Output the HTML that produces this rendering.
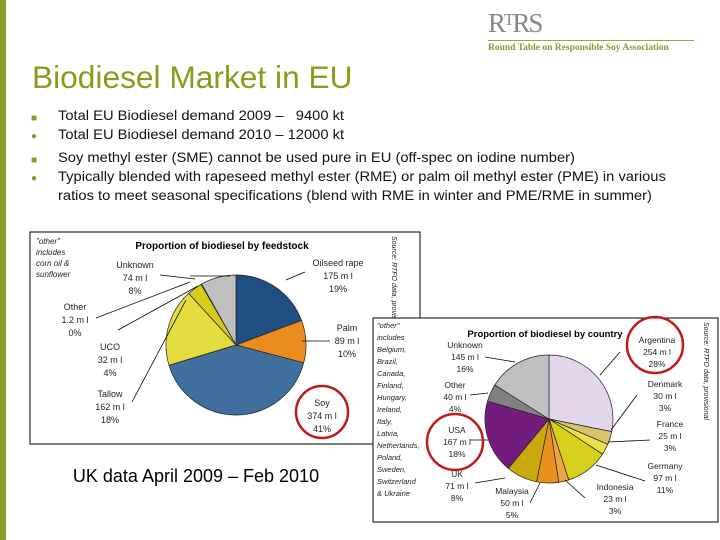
<!DOCTYPE html>
<html><head><meta charset="utf-8"><style>
body{margin:0;width:720px;height:540px;background:#fff;position:relative;overflow:hidden;font-family:"Liberation Sans",sans-serif}
.abs{position:absolute}
.b{position:absolute;font-size:14px;color:#111;font-family:"Liberation Sans Narrow","Liberation Sans",sans-serif;left:58px;line-height:19px;transform:scaleX(1.05);transform-origin:left;white-space:nowrap}
.m{position:absolute;left:31px;font-size:10px;color:#8a9a22}
</style></head><body>
<div class="abs" style="left:0;top:0;width:6px;height:540px;background:#8d9b2b"></div>
<div class="abs" style="left:488px;top:8px;width:210px;height:45px">
<div style="font-family:'Liberation Serif',serif;font-size:27px;color:#888;letter-spacing:-2px">R<span style="font-size:17px;vertical-align:7px">T</span>RS</div>
<div style="border-top:1px solid #9aa83a;width:206px;margin-top:1px"></div>
<div style="font-family:'Liberation Serif',serif;font-size:9.5px;font-weight:bold;color:#8a9632;margin-top:2px">Round Table on Responsible Soy Association</div>
</div>
<div class="abs" style="left:32px;top:59px;font-size:31.7px;color:#8c9a1e">Biodiesel Market in EU</div>
<div class="m" style="top:113px">■</div><div class="b" style="top:106px">Total EU Biodiesel demand 2009 –&nbsp;&nbsp; 9400 kt</div>
<div class="m" style="top:131px">●</div><div class="b" style="top:125px">Total EU Biodiesel demand 2010 – 12000 kt</div>
<div class="m" style="top:155px">■</div><div class="b" style="top:148px">Soy methyl ester (SME) cannot be used pure in EU (off-spec on iodine number)</div>
<div class="m" style="top:173px">●</div><div class="b" style="top:167px">Typically blended with rapeseed methyl ester (RME) or palm oil methyl ester (PME) in various<br>ratios to meet seasonal specifications (blend with RME in winter and PME/RME in summer)</div>

<svg class="abs" style="left:0;top:0" width="720" height="540">
<rect x="30" y="232" width="390" height="212" fill="#fff" stroke="#000"/>
<text x="222" y="249" font-size="10" font-weight="bold" text-anchor="middle">Proportion of biodiesel by feedstock</text>
<g id="pie1"></g>
<g stroke="#000" stroke-width="0.8" fill="none">
<path d="M286,280 L305,272"/><path d="M302,341 L330,341"/><path d="M190,282 L96,318"/><path d="M198,286 L118,330"/><path d="M186,300 L132,402"/><path d="M195,279 L160,275"/><path d="M230,276 L190,276"/>
</g>
<g font-size="9" fill="#222" text-anchor="middle" font-family="Liberation Sans">
<text x="338" y="266">Oilseed rape</text><text x="338" y="279">175 m l</text><text x="338" y="292">19%</text>
<text x="347" y="331">Palm</text><text x="347" y="344">89 m l</text><text x="347" y="357">10%</text>
<text x="322" y="406">Soy</text><text x="322" y="419">374 m l</text><text x="322" y="432">41%</text>
<text x="110" y="397">Tallow</text><text x="110" y="410">162 m l</text><text x="110" y="423">18%</text>
<text x="110" y="350">UCO</text><text x="110" y="363">32 m l</text><text x="110" y="376">4%</text>
<text x="75" y="310">Other</text><text x="75" y="323">1.2 m l</text><text x="75" y="336">0%</text>
<text x="135" y="268">Unknown</text><text x="135" y="281">74 m l</text><text x="135" y="294">8%</text>
<text x="36" y="244" text-anchor="start" font-style="italic" font-size="8">"other"</text><text x="36" y="255" text-anchor="start" font-style="italic" font-size="8">includes</text><text x="36" y="266" text-anchor="start" font-style="italic" font-size="8">corn oil &amp;</text><text x="36" y="277" text-anchor="start" font-style="italic" font-size="8">sunflower</text>
<text transform="translate(392,236) rotate(90)" text-anchor="start" font-size="7" font-style="italic">Source: RTFO data, provisional</text>
</g>
<circle cx="322" cy="412" r="26" fill="none" stroke="#c0191c" stroke-width="2.5"/>
<text x="196" y="482" font-size="18" text-anchor="middle">UK data April 2009 – Feb 2010</text>

<rect x="373" y="318" width="345" height="204" fill="#fff" stroke="#000"/>
<text x="545" y="337" font-size="9.5" font-weight="bold" text-anchor="middle">Proportion of biodiesel by country</text>
<g id="pie2"></g>
<g stroke="#000" stroke-width="0.8" fill="none">
<path d="M600,375 L620,352"/><path d="M611,430 L637,395"/><path d="M608,442 L650,440"/><path d="M596,465 L645,481"/><path d="M565,480 L585,498"/><path d="M540,483 L530,503"/><path d="M505,478 L475,483"/><path d="M488,440 L470,440"/><path d="M488,393 L470,395"/><path d="M515,362 L485,357"/>
</g>
<g font-size="8.5" fill="#222" text-anchor="middle">
<text x="657" y="343">Argentina</text><text x="657" y="355">254 m l</text><text x="657" y="367">28%</text>
<text x="665" y="387">Denmark</text><text x="665" y="399">30 m l</text><text x="665" y="411">3%</text>
<text x="670" y="427">France</text><text x="670" y="439">25 m l</text><text x="670" y="451">3%</text>
<text x="665" y="469">Germany</text><text x="665" y="481">97 m l</text><text x="665" y="493">11%</text>
<text x="615" y="490">Indonesia</text><text x="615" y="502">23 m l</text><text x="615" y="514">3%</text>
<text x="512" y="494">Malaysia</text><text x="512" y="506">50 m l</text><text x="512" y="518">5%</text>
<text x="457" y="477">UK</text><text x="457" y="489">71 m l</text><text x="457" y="501">8%</text>
<text x="457" y="433">USA</text><text x="457" y="445">167 m l</text><text x="457" y="457">18%</text>
<text x="455" y="388">Other</text><text x="455" y="400">40 m l</text><text x="455" y="412">4%</text>
<text x="465" y="348">Unknown</text><text x="465" y="360">145 m l</text><text x="465" y="372">16%</text>
</g>
<g font-size="7.5" font-style="italic" fill="#222">
<text x="377" y="328">"other"</text><text x="377" y="340">includes</text><text x="377" y="352">Belgium,</text><text x="377" y="364">Brazil,</text><text x="377" y="376">Canada,</text><text x="377" y="388">Finland,</text><text x="377" y="400">Hungary,</text><text x="377" y="412">Ireland,</text><text x="377" y="424">Italy,</text><text x="377" y="436">Latvia,</text><text x="377" y="448">Netherlands,</text><text x="377" y="460">Poland,</text><text x="377" y="472">Sweden,</text><text x="377" y="484">Switzerland</text><text x="377" y="496">&amp; Ukraine</text>
<text transform="translate(704,322) rotate(90)" font-size="7">Source: RTFO data, provisional</text>
</g>
<circle cx="655" cy="345" r="28" fill="none" stroke="#c0191c" stroke-width="2.5"/>
<circle cx="455" cy="442" r="28" fill="none" stroke="#c0191c" stroke-width="2.5"/>
</svg>
<script>
const feedCats=["Oilseed rape","Palm","Soy","Tallow","UCO","Other","Unknown"];
const feedVals=[175,89,374,162,32,1.2,74];
const feedColors=["#1f4e83","#e88d1e","#41709f","#e3dc3e","#d6cc1c","#e9e24a","#c0c0c0"];
const ctryCats=["Argentina","Denmark","France","Germany","Indonesia","Malaysia","UK","USA","Other","Unknown"];
const ctryVals=[254,30,25,97,23,50,71,167,40,145];
const ctryColors=["#e4d6ea","#d8c46a","#e6e04a","#d6d01a","#f0a540","#e8901c","#c9a80e","#741c7e","#808080","#c0c0c0"];
function pie(id,cats,vals,cols,cx,cy,r){
  const g=document.getElementById(id),ns="http://www.w3.org/2000/svg";
  const tot=vals.reduce((a,b)=>a+b,0);let a0=-Math.PI/2;
  vals.forEach((v,i)=>{
    const a1=a0+v/tot*2*Math.PI;
    const x0=cx+r*Math.cos(a0),y0=cy+r*Math.sin(a0),x1=cx+r*Math.cos(a1),y1=cy+r*Math.sin(a1);
    const p=document.createElementNS(ns,"path");
    p.setAttribute("d",`M${cx},${cy}L${x0},${y0}A${r},${r} 0 ${a1-a0>Math.PI?1:0} 1 ${x1},${y1}Z`);
    p.setAttribute("fill",cols[i]);p.setAttribute("stroke","#222");p.setAttribute("stroke-width","0.7");
    
    
    g.appendChild(p);a0=a1;
  });
}
pie("pie1",feedCats,feedVals,feedColors,236,345,70);
pie("pie2",ctryCats,ctryVals,ctryColors,549,419,64);
</script>
</body></html>
